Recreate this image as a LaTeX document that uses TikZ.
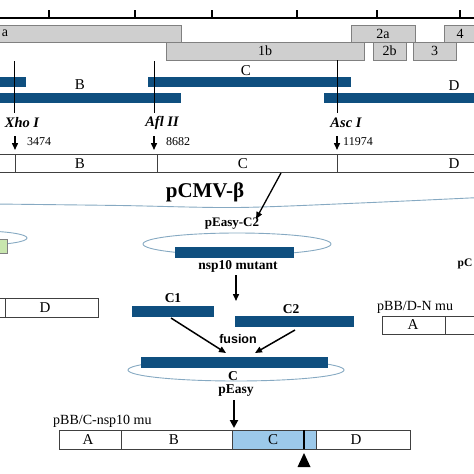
\documentclass[tikz,border=0pt]{standalone}
\usepackage{fontspec}
\setmainfont{Liberation Serif}
\newfontfamily\sansf{Liberation Sans}
\usetikzlibrary{arrows.meta}
\definecolor{barblue}{HTML}{0F4F7F}
\definecolor{ellblue}{HTML}{86A9C2}
\definecolor{boxgray}{HTML}{CFCFCF}
\definecolor{boxedge}{HTML}{808080}
\definecolor{lightc}{HTML}{9CC9EA}
\definecolor{greenbox}{HTML}{C8E6AE}
\newcommand\rectnode[6]{\node[#1, anchor=north west, inner sep=0pt, outer sep=0pt,
  minimum width={(#5-#3)*1pt}, minimum height={(#6-#4)*1pt}] (#2) at (#3,#4) {};}
\tikzset{
  graybox/.style={draw=boxedge, fill=boxgray, line width=0.8pt},
  bar/.style={fill=barblue, draw=none},
  segbox/.style={draw=black!75, fill=white, line width=1pt},
  lbl/.style={font=\fontsize{15}{15}\selectfont, inner sep=0pt},
  glbl/.style={font=\fontsize{14}{14}\selectfont, inner sep=0pt},
  blbl/.style={font=\bfseries\fontsize{13.5}{13.5}\selectfont, inner sep=0pt},
  enz/.style={font=\bfseries\itshape\fontsize{14.5}{14.5}\selectfont, inner sep=0pt},
  num/.style={font=\fontsize{12}{12}\selectfont, inner sep=0pt, anchor=west},
  ell/.style={draw=ellblue, line width=0.9pt},
  arr/.style={-{Triangle[width=6pt,length=7pt]}, line width=1.5pt},
  thin/.style={line width=0.8pt},
}
\begin{document}
\begin{tikzpicture}[x=1pt,y=-1pt]
\useasboundingbox (0,0) rectangle (474,474);
\clip (0,0) rectangle (474,474);
% scale line
\coordinate (sl) at (-5,18); \coordinate (sr) at (480,18);
\draw[line width=1.2pt] (sl) -- (sr);
\foreach \t in {49,135,212,297,377,460} \draw[line width=1.2pt] (\t,18) -- (\t,10);
% gray boxes
\rectnode{graybox}{ga}{-60}{25}{181}{42}
\rectnode{graybox}{g1b}{166}{42}{364}{60}
\rectnode{graybox}{g2a}{351}{25}{415}{42}
\rectnode{graybox}{g2b}{373}{42}{406}{60}
\rectnode{graybox}{g3}{413}{42}{456}{60}
\rectnode{graybox}{g4}{444}{25}{520}{42}
\node[glbl] (la) at (5,33.5) {a};
\node[glbl] at (g1b.center) {1b};
\node[glbl] at (g2a.center) {2a};
\node[glbl] at (g2b.center) {2b};
\node[glbl] at (g3.center) {3};
\node[glbl] (l4) at (460,33.5) {4};
% blue bars
\rectnode{bar}{b1}{-10}{77}{26}{87}
\rectnode{bar}{bB}{-10}{93}{181}{103}
\rectnode{bar}{bC}{148}{77}{351}{87}
\rectnode{bar}{bD}{324}{93}{490}{103}
\node[lbl] (tB) at (80,85) {B};
\node[lbl] (tC) at (246,71) {C};
\node[lbl] (tD) at (454,86) {D};
% restriction site lines
\coordinate (x1) at (14,61); \coordinate (x2) at (14,113);
\coordinate (a1) at (154,61); \coordinate (a2) at (154,113);
\coordinate (s1) at (337,60); \coordinate (s2) at (337,113);
\draw[thin] (x1) -- (x2); \draw[thin] (a1) -- (a2); \draw[thin] (s1) -- (s2);
\node[enz] (xho) at (22,123) {Xho I};
\node[enz] (afl) at (162,123) {Afl II};
\node[enz] (asc) at (346,123) {Asc I};
\coordinate (xa) at (15,136); \coordinate (xb) at (15,150);
\coordinate (aa) at (154,136); \coordinate (ab) at (154,150);
\coordinate (sa) at (337,136); \coordinate (sb) at (337,150);
\draw[arr] (xa) -- (xb); \draw[arr] (aa) -- (ab); \draw[arr] (sa) -- (sb);
\node[num] (n1) at (27,142) {3474};
\node[num] (n2) at (166,142) {8682};
\node[num] (n3) at (343,142) {11974};
% segment row
\rectnode{segbox}{sA}{-50}{154}{15}{172}
\rectnode{segbox}{sB}{15}{154}{157}{172}
\rectnode{segbox}{sC}{157}{154}{337}{172}
\rectnode{segbox}{sD}{337}{154}{520}{172}
\node[lbl] at (80,163.5) {B};
\node[lbl] at (243,163.5) {C};
\node[lbl] at (454,163.5) {D};
% pCMV-beta
\node[font=\bfseries\fontsize{21}{21}\selectfont, inner sep=0pt] (pcmv) at (205,192) {pCMV-β};
\draw[ell] plot[smooth] coordinates {(-5,204) (120,205.5) (237,207.5) (360,203) (480,197.5)};
% arrow to pEasy-C2
\coordinate (cfrom) at (281,173);
\node[blbl, font=\bfseries\fontsize{13}{13}\selectfont] (pec2) at (232,224) {pEasy-C2};
\coordinate (cto) at (256,219);
\draw[line width=1.3pt, -{Triangle[width=6pt,length=7pt]}] (cfrom) -- (cto);
% pEasy-C2 plasmid
\draw[ell] (237,244) ellipse [x radius=94, y radius=11];
\rectnode{bar}{nsp}{175}{247}{294}{258}
\node[blbl] (nspl) at (238,266) {nsp10 mutant};
\coordinate (d1) at (236,275); \coordinate (d2) at (236,301);
\draw[arr] (d1) -- (d2);
% C1 / C2
\rectnode{bar}{c1}{132}{306}{214}{317}
\rectnode{bar}{c2}{235}{316}{354}{327}
\node[blbl] (c1l) at (173,298) {C1};
\node[blbl] (c2l) at (291,309) {C2};
\coordinate (f1a) at (171,318); \coordinate (f1b) at (226,353);
\coordinate (f2a) at (295,330); \coordinate (f2b) at (255,353);
\draw[arr] (f1a) -- (f1b);
\draw[arr] (f2a) -- (f2b);
\node[font=\sansf\bfseries\fontsize{12.5}{12.5}\selectfont, inner sep=0pt] (fus) at (238,339) {fusion};
% fused C in pEasy
\draw[ell] (236,370) ellipse [x radius=108, y radius=11];
\rectnode{bar}{cf}{141}{357}{328}{368}
\node[blbl] (cfl) at (233,376) {C};
\node[blbl] (pel) at (236,391) {pEasy};
\coordinate (e1) at (234,400); \coordinate (e2) at (234,428);
\draw[-{Triangle[width=8pt,length=8pt]}, line width=2pt] (e1) -- (e2);
% bottom construct
\node[glbl, anchor=west] (pbbc) at (53,421) {pBB/C-nsp10 mu};
\rectnode{segbox}{bA}{59}{430}{121}{449}
\rectnode{segbox}{bBB}{121}{430}{232}{449}
\rectnode{segbox, fill=lightc}{bCC}{232}{430}{316}{449}
\rectnode{segbox}{bDD}{316}{430}{410}{449}
\node[lbl] at (88,440) {A};
\node[lbl] at (174,440) {B};
\node[lbl] at (273,440) {C};
\node[lbl] at (356,440) {D};
\coordinate (m1) at (304,430); \coordinate (m2) at (304,449);
\draw[line width=1.6pt] (m1) -- (m2);
\coordinate (tri) at (304,453);
\fill (tri) -- (310.5,467) -- (297.5,467) -- cycle;
% left partial plasmid
\draw[ell] (-20,238) ellipse [x radius=47, y radius=7];
\rectnode{draw=boxedge, fill=greenbox, line width=0.8pt}{gb}{-5}{239}{7}{253}
\rectnode{segbox}{lA}{-50}{298}{5}{317}
\rectnode{segbox}{lD}{5}{298}{98}{317}
\node[lbl] at (45,307.5) {D};
% right partial
\node[blbl, anchor=west, font=\bfseries\fontsize{11.5}{11.5}\selectfont] (pcr) at (457.5,264) {pC};
\node[glbl, anchor=west] (pbbd) at (377,307) {pBB/D-N mu};
\rectnode{segbox}{rA}{382}{316}{445}{334}
\rectnode{segbox}{rB}{445}{316}{520}{334}
\node[lbl] at (413,325) {A};
\end{tikzpicture}
\end{document}
